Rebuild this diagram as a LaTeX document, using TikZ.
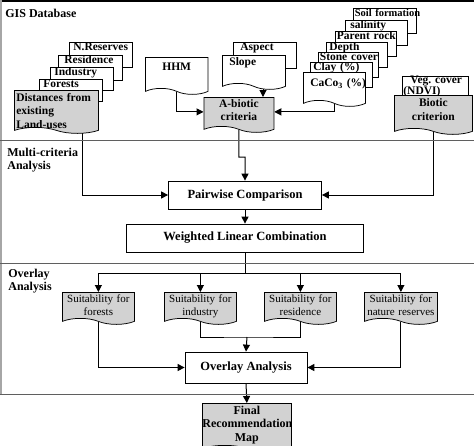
\documentclass[tikz,border=0pt]{standalone}
\usepackage{fontspec}
\setmainfont{Liberation Serif}
\usetikzlibrary{shapes.symbols,arrows.meta,backgrounds}

\definecolor{boxgray}{RGB}{210,210,210}
\definecolor{linegray}{RGB}{95,95,95}

\tikzset{every picture/.style={line width=0.75pt}}
\tikzset{
  layer/.style={draw,fill=white,rectangle,anchor=north west,inner xsep=1.5pt,inner ysep=0pt,
    align=left,text height=8.5pt,font=\fontsize{11.5}{12}\selectfont\bfseries},
  doc/.style={tape,tape bend top=none,tape bend bottom=out and in,tape bend height=6pt,
    draw,fill=#1,anchor=north west,inner ysep=0pt,font=\fontsize{11.5}{13.5}\selectfont\bfseries},
  doc/.default=white,
  suit/.style={doc=boxgray,inner xsep=0pt,text width=72pt,align=center,text height=10pt,
    text depth=16pt,font=\fontsize{11}{13}\selectfont},
  proc/.style={draw,fill=white,rectangle,inner sep=0pt,font=\fontsize{12.5}{14}\selectfont\bfseries},
  head/.style={anchor=base west,align=left,inner sep=0pt,font=\fontsize{12}{13}\selectfont\bfseries},
  wire/.style={line width=1pt},
  link/.style={wire,-{Triangle[length=7pt,width=7pt]}},
  sep/.style={draw=linegray,line width=1pt}
}

\begin{document}
\begin{tikzpicture}[x=1pt,y=-1pt]
			\useasboundingbox (0,0) rectangle (474,445);
			\draw[line width=2.5pt] (0,1) -- (474,1);
			\draw[gray!70,line width=2pt] (1,0) -- (1,394);
			\draw[sep] (0,140) -- (474,140);
			\draw[sep] (0,263) -- (474,263);
			\draw[sep] (0,394) -- (474,394);

			\node [head](gis) at (5,17) {GIS Database};
			\node [head](mca) at (7,169) {Multi-criteria\\Analysis};
			\node [head](ovl) at (8,290) {Overlay\\Analysis};

			% land-use distances
			\node [layer,inner xsep=4pt,text width=55pt,text depth=16.5pt](nres) at (69,42) {N.Reserves};
			\node [layer,inner xsep=4pt,text width=56pt,text depth=16.5pt](resid) at (58,55) {\hspace*{2pt}Residence};
			\node [layer,inner xsep=4pt,text width=55pt,text depth=14.5pt](indus) at (50,67) {Industry};
			\node [layer,inner xsep=4pt,text width=55pt,text depth=13.5pt](forest) at (39,79) {Forests};
			\node [doc=boxgray,inner xsep=2pt,text width=80pt,align=left,text height=11pt,text depth=26pt](dist) at (14,90) {Distances from\\existing\\Land-uses};

			% a-biotic inputs
			\node [doc,text width=56pt,align=center,text height=13pt,text depth=18pt](hhm) at (145,57) {HHM};
			\node [layer,inner xsep=7pt,text width=49pt,text depth=17.5pt](aspect) at (233,42) {Aspect};
			\node [doc,inner xsep=7pt,text width=49pt,align=left,text height=10pt,text depth=18pt](slope) at (222,55) {Slope};

			\node [layer,text width=60pt,text depth=16.5pt,font=\fontsize{10.5}{12}\selectfont\bfseries](soil) at (353,8) {\mbox{Soil formation}};
			\node [layer,text width=59pt,text depth=16.5pt](salin) at (345,20) {\hspace*{3.5pt}salinity};
			\node [layer,text width=58pt,text depth=16.5pt](prock) at (335,31) {\mbox{Parent rock}};
			\node [layer,text width=58pt,text depth=16.5pt](depth) at (326,42) {\hspace*{1.5pt}Depth};
			\node [layer,text width=57pt,text depth=16.5pt](stone) at (318,52) {\mbox{Stone cover}};
			\node [layer,text width=59pt,text depth=16.5pt](clay) at (310,62) {\hspace*{1.5pt}Clay (\%)};
			\node [doc,inner xsep=1.5pt,text width=59pt,align=left,text height=14pt,text depth=14pt](caco) at (303,72) {\hspace*{5.5pt}\mbox{CaCo\textsubscript{3} (\%)}};

			\node [doc=boxgray,inner xsep=3pt,text width=64pt,align=center,text height=10pt,text depth=19pt](abio) at (203.5,97) {A-biotic\\criteria};

			% biotic input
			\node [layer,inner xsep=1pt,text width=64pt,text height=7pt,text depth=18pt,font=\fontsize{11.5}{10}\selectfont\bfseries](veg) at (402,76) {\hspace*{7pt}\mbox{Veg.\ cover}\\(NDVI)};
			\node [doc=boxgray,inner xsep=3pt,text width=72pt,align=center,text height=11pt,text depth=22pt,font=\fontsize{11.5}{14.5}\selectfont\bfseries](bio) at (394,95) {Biotic\\criterion};

			% multi-criteria steps
			\node [proc,minimum width=153pt,minimum height=28pt](pair) at (245,195) {Pairwise Comparison};
			\node [proc,minimum width=237pt,minimum height=28pt](wlc) at (245,238) {Weighted Linear Combination};

			% overlay
			\node [suit](sf) at (62,292) {Suitability for\\forests};
			\node [suit](si) at (164,292) {Suitability for\\industry};
			\node [suit](sr) at (264,292) {Suitability for\\residence};
			\node [suit,text width=73pt](sn) at (364,292) {Suitability for\\nature reserves};
			\node [proc,minimum width=122pt,minimum height=31pt](ov) at (246,367.5) {Overlay Analysis};

			\node [doc=boxgray,inner xsep=0pt,text width=89pt,align=center,text height=11pt,text depth=31pt,font=\fontsize{12}{13.5}\selectfont\bfseries](fin) at (202,403) {Final\\Recommendation\\Map};

			\coordinate (distout) at (82,120);
			\coordinate (slopeout) at (263,75);
			\coordinate (abiobend) at (238,157);
			\coordinate (fork) at (245,273);
			\coordinate (join) at (247,337);

			\begin{scope}[on background layer]
			\draw[link] (distout) |- (pair.west);
			\draw[link] (hhm) |- (abio.west);
			\draw[link] (slopeout) -- (slopeout |- abio.north);
			\draw[link] (caco) |- (abio.east);
			\draw[link] (abio) -- (abio |- abiobend) -| (pair.north);
			\draw[link] (bio) |- (pair.east);
			\draw[link] (pair.south) -- (wlc.north);
			\draw[wire] (wlc) -- (fork);
			\draw[wire] (fork -| sf) -- (fork -| sn);
			\foreach \s in {sf,si,sr,sn}
				\draw[link] (fork -| \s) -- (\s.north);
			\draw[link] (sf) |- (ov.west);
			\draw[link] (sn) |- (ov.east);
			\draw[wire] (si) |- (join) -| (sr);
			\draw[link] (join) -- (ov.north);
			\draw[link] (ov.south) -- (fin.north);
			\end{scope}
		\end{tikzpicture}
\end{document}
